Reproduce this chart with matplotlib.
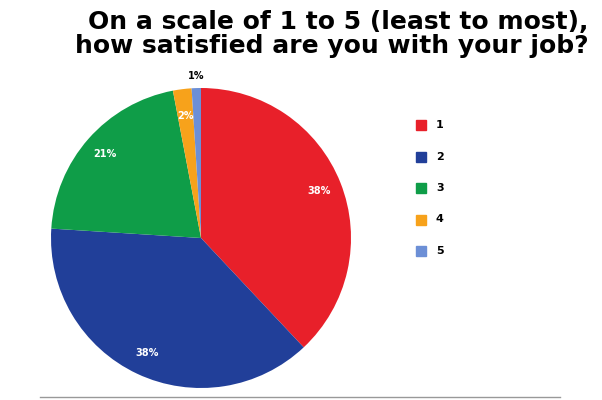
import matplotlib
matplotlib.use("Agg")
import matplotlib.pyplot as plt
import numpy as np

categories = ["1", "2", "3", "4", "5"]
values = [38, 38, 21, 2, 1]
labels = ["38%", "38%", "21%", "2%", "1%"]
colors = ["#E8202A", "#213F99", "#0F9D48", "#F7A21B", "#6C8FD6"]

fig = plt.figure(figsize=(6.02, 4.0), dpi=100)
fig.text(0.978, 0.975, "On a scale of 1 to 5 (least to most),\nhow satisfied are you with your job?",
         ha="right", va="top", fontsize=18, fontweight="heavy", family="DejaVu Sans",
         linespacing=1.0)

ax = fig.add_axes([51/602, 12/400, 300/602, 300/400])
wedges, _ = ax.pie(values, colors=colors, startangle=90, counterclock=False,
                   wedgeprops=dict(linewidth=0))
for w, lab, i in zip(wedges, labels, range(len(values))):
    ang = np.deg2rad((w.theta1 + w.theta2) / 2)
    r = 1.08 if i == 4 else (0.82 if i == 3 else 0.85)
    ax.text(r*np.cos(ang), r*np.sin(ang), lab, ha="center", va="center",
            fontsize=7, fontweight="bold", color="black" if i == 4 else "white")
ax.set_xlim(-1, 1); ax.set_ylim(-1, 1)
ax.set_aspect("equal")

lax = fig.add_axes([0, 0, 1, 1]); lax.axis("off")
lax.set_xlim(0, 602); lax.set_ylim(400, 0)
for k, (c, col) in enumerate(zip(categories, colors)):
    y = 125 + k * 31.5
    lax.add_patch(plt.Rectangle((416, y - 5), 10, 10, color=col))
    lax.text(436, y, c, va="center", ha="left", fontsize=8, fontweight="bold")
lax.plot([40, 560], [397, 397], color="#999999", lw=1)
fig.savefig("out.png", dpi=100)
